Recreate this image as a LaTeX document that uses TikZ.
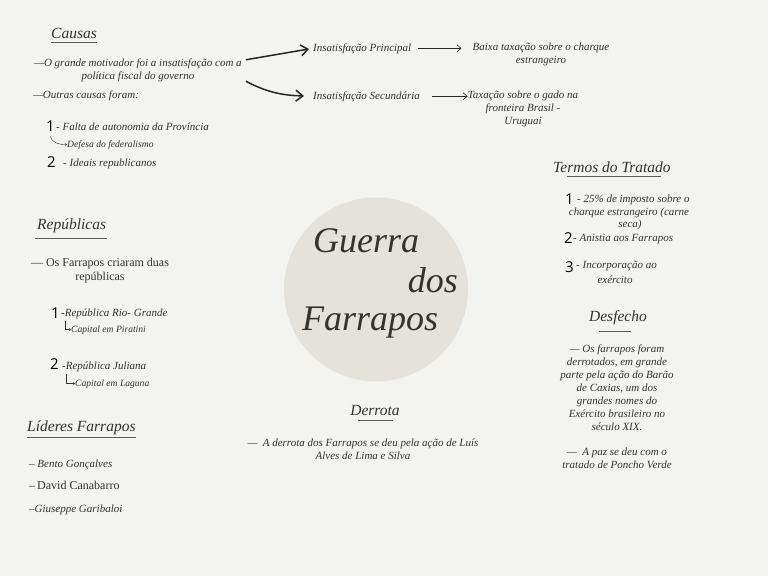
\documentclass[tikz,border=0pt]{standalone}
\usepackage{fontspec}
\setmainfont{Liberation Serif}
\newfontfamily\numfont{Open Sans}
\usetikzlibrary{arrows.meta,calc,positioning}

\definecolor{paper}{HTML}{F3F3EF}
\definecolor{disc}{HTML}{E5E2DC}
\definecolor{ink}{HTML}{35322F}

\begin{document}
\begin{tikzpicture}[x=1pt, y=-1pt,
    head/.style={font=\itshape\fontsize{15.5}{15.5}\selectfont, text=ink, inner sep=0pt},
    txt/.style={font=\itshape\fontsize{11}{13}\selectfont, text=ink, inner sep=0pt, align=center},
    uptxt/.style={font=\fontsize{12}{13.5}\selectfont, text=ink, inner sep=0pt, align=center},
    note/.style={font=\itshape\fontsize{9.6}{10}\selectfont, text=ink, inner sep=0pt},
    num/.style={font=\numfont\fontsize{15}{15}\selectfont, text=black, inner sep=0pt},
    bigword/.style={font=\itshape\fontsize{36}{36}\selectfont, text=ink, inner sep=0pt},
    uline/.style={draw=ink!80, line width=0.8pt},
    bigarrow/.style={-{Straight Barb[length=7pt,width=11pt]}, line width=1.5pt, black!85},
    thinarrow/.style={-{Straight Barb[length=4pt,width=7pt]}, line width=0.6pt, black!85},
    hookarrow/.style={-{Straight Barb[length=1.6pt,width=2.6pt]}, line width=0.4pt, ink}]

    % Page and central disc
    \useasboundingbox (0,0) rectangle (768,576);
    \fill[paper] (0,0) rectangle (768,576);
    \node[circle, fill=disc, minimum size=184pt, inner sep=0pt] (centro) at (376,289.5) {};
    \node[bigword, anchor=base west] (guerra) at (313,252) {Guerra};
    \node[bigword, anchor=base east] (dos) at (458,292) {dos};
    \node[bigword, anchor=base west] (farrapos) at (302,330) {Farrapos};

    % Causas
    \node[head, anchor=base west] (causas) at (51,38) {Causas};
    \draw[uline] ($(causas.base west)+(0,4)$) -- ($(causas.base east)+(0,4)$);
    \node[txt] (motivo) at (138,70.5) {—O grande motivador foi a insatisfação com a\\política fiscal do governo};
    \node[txt, anchor=base west] (outras) at (33,98) {—Outras causas foram:};
    \node[num, anchor=base west] (c1) at (46,131) {1};
    \node[txt, anchor=base west] (falta) at (56,130) {- Falta de autonomia da Província};
    \node[note, anchor=base west] (defesa) at (67,147) {Defesa do federalismo};
    \draw[hookarrow] ($(c1.south)+(0,5)$) to[out=-80,in=180] (defesa.west);
    \node[num, anchor=base west] (c2) at (47,167) {2};
    \node[txt, anchor=base west] (ideais) at (63,166) {- Ideais republicanos};

    % Insatisfacoes
    \node[txt, anchor=base west] (princ) at (313,51) {Insatisfação Principal};
    \node[txt, anchor=base west] (secund) at (313,99) {Insatisfação Secundária};
    \node[txt] (baixa) at (541,54.5) {Baixa taxação sobre o charque\\estrangeiro};
    \node[txt] (taxa) at (523,108.5) {Taxação sobre o gado na\\fronteira Brasil -\\Uruguai};

    \draw[bigarrow, shorten >=4pt] ($(motivo.north east)+(4,1)$) -- (princ.west);
    \draw[bigarrow, shorten >=9pt] ($(motivo.south east)+(4,-1)$) to[out=-28,in=178] (secund.west);
    \draw[thinarrow] ($(princ.east)+(7,0)$) -- ($(princ.east -| baixa.west)+(-11,0)$);
    \draw[thinarrow] ($(secund.east)+(12,0)$) -- ($(secund.east -| taxa.west)+(0,0)$);

    % Republicas
    \node[head, anchor=base west] (repub) at (37,229) {Repúblicas};
    \draw[uline] ($(repub.base west)+(-2,9)$) -- ($(repub.base east)+(1,9)$);
    \node[uptxt] (criaram) at (100,270.5) {— Os Farrapos criaram duas\\repúblicas};
    \node[num, anchor=base west] (r1) at (51,318) {1};
    \node[txt, anchor=base west] (riogrande) at (61,316) {-República Rio- Grande};
    \node[note, anchor=base west] (piratini) at (71,332) {Capital em Piratini};
    \draw[hookarrow] ($(riogrande.base west)+(4,5)$) |- (piratini.west);
    \node[num, anchor=base west] (r2) at (50,369) {2};
    \node[txt, anchor=base west] (juliana) at (62,369) {-República Juliana};
    \node[note, anchor=base west] (laguna) at (75,386) {Capital em Laguna};
    \draw[hookarrow] ($(juliana.base west)+(4,5)$) |- (laguna.west);

    % Lideres
    \node[head, anchor=base west] (lideres) at (27,431) {Líderes Farrapos};
    \draw[uline] ($(lideres.base west)+(0,6)$) -- ($(lideres.base east)+(0,6)$);
    \node[txt, anchor=base west] (bento) at (29,467) {–\ Bento Gonçalves};
    \node[uptxt, anchor=base west] (david) at (29,489) {–\,David Canabarro};
    \node[txt, anchor=base west] (giuseppe) at (29,512) {–Giuseppe Garibaloi};

    % Termos do tratado
    \node[head, anchor=base west] (termos) at (553,172) {Termos do Tratado};
    \draw[uline] ($(termos.base west)+(14,4)$) -- ($(termos.base east)+(-10,4)$);
    \node[num, anchor=base west] (t1) at (565,204) {1};
    \node[txt, anchor=base west] (imposto) at (577,202) {- 25\% de imposto sobre o};
    \node[txt, anchor=base] (imposto2) at (629,215) {charque estrangeiro (carne};
    \node[txt, anchor=base] (imposto3) at (630,227.5) {seca)};
    \node[num, anchor=base west] (t2) at (564,243) {2};
    \node[txt, anchor=base west] (anistia) at (573,241) {- Anistia aos Farrapos};
    \node[num, anchor=base west] (t3) at (565,272) {3};
    \node[txt, anchor=base west] (incorp) at (576,268) {- Incorporação ao};
    \node[txt, anchor=base] (incorp2) at (615,283) {exército};

    % Desfecho
    \node[head] (desfecho) at (618,318) {Desfecho};
    \draw[uline] ($(desfecho.south)+(-19,6)$) -- ($(desfecho.south)+(13,6)$);
    \node[txt] (desf1) at (617,388) {— Os farrapos foram\\derrotados, em grande\\parte pela ação do Barão\\de Caxias, um dos\\grandes nomes do\\Exército brasileiro no\\século XIX.};
    \node[txt] (desf2) at (617,458.5) {—\ \ A paz se deu com o\\tratado de Poncho Verde};

    % Derrota
    \node[head] (derrota) at (375,410) {Derrota};
    \draw[uline] ($(derrota.south)+(-17,5)$) -- ($(derrota.south)+(18,5)$);
    \node[txt] (derr1) at (363,449) {—\ \ A derrota dos Farrapos se deu pela ação de Luís\\Alves de Lima e Silva};

\end{tikzpicture}
\end{document}
